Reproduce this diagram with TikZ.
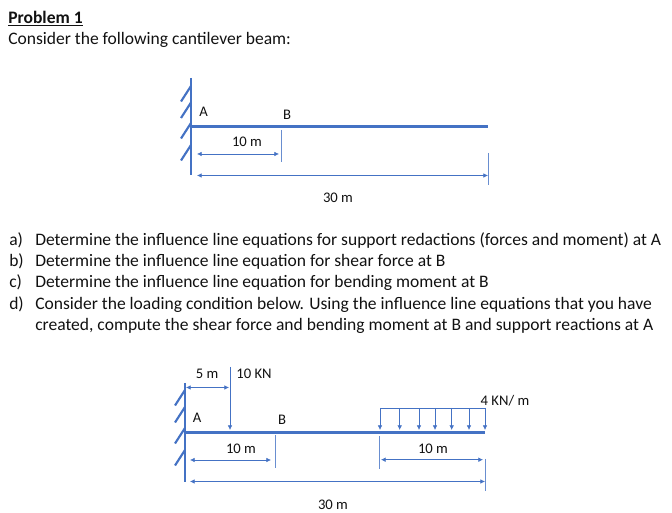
\documentclass[tikz,border=0pt]{standalone}
\usepackage{fontspec}
\setmainfont{Carlito}
\usetikzlibrary{arrows.meta}
\definecolor{beamblue}{HTML}{4472C4}
\definecolor{inktext}{HTML}{111111}
\tikzset{
  beamLine/.style={draw=beamblue, line width=1.8pt},
  hatchLine/.style={draw=beamblue, line width=1.6pt},
  dimLine/.style={draw=beamblue, line width=0.55pt, {Latex[length=3.5pt,width=3.5pt]}-{Latex[length=3.5pt,width=3.5pt]}},
  loadLine/.style={draw=beamblue, line width=0.55pt, -{Latex[length=3.5pt,width=3.5pt]}},
  tickLine/.style={draw=beamblue!80, line width=0.6pt},
  bodyTxt/.style={text=inktext, font=\fontsize{13.15}{15}\selectfont, anchor=base west, inner sep=0pt},
  figTxt/.style={text=inktext, font=\fontsize{11}{13}\selectfont, inner sep=0pt},
}
% wall hatches, given the wall x and the four y values at the wall
\newcommand{\WallHatch}[5]{%
  \foreach \yy in {#2,#3,#4,#5}
    \draw[hatchLine] (#1,\yy) -- ++(-10,15.5);
}
\begin{document}
\begin{tikzpicture}[x=0.75pt, y=-0.75pt]
  \useasboundingbox (0,0) rectangle (672,513);

  % text
  \node[bodyTxt] (title) at (8,23.7) {\underline{\textbf{Problem 1}}};
  \node[bodyTxt] (intro) at (8,44.5) {Consider the following cantilever beam:};
  \node[bodyTxt] (qa) at (9,245.8) {a)};
  \node[bodyTxt] (qb) at (9,266.3) {b)};
  \node[bodyTxt] (qc) at (9,288) {c)};
  \node[bodyTxt] (qd) at (9,309.3) {d)};
  \node[bodyTxt] (qatxt) at (35,245.8) {Determine the influence line equations for support redactions (forces and moment) at A};
  \node[bodyTxt] (qbtxt) at (35,266.3) {Determine the influence line equation for shear force at B};
  \node[bodyTxt] (qctxt) at (35,288) {Determine the influence line equation for bending moment at B};
  \node[bodyTxt] (qdtxt) at (35,309.3) {Consider the loading condition below. Using the influence line equations that you have};
  \node[bodyTxt] (qdtxtb) at (35,331) {created, compute the shear force and bending moment at B and support reactions at A};

  % top beam
  \coordinate (wallT) at (191,78);
  \coordinate (wallB) at (191,175);
  \coordinate (beamL) at (191,126.7);
  \coordinate (beamR) at (488,126.7);
  \draw[beamLine] (wallT) -- (wallB);
  \draw[beamLine] (beamL) -- (beamR);
  \WallHatch{191}{86}{102.5}{123}{145}

  \draw[tickLine] (281,130) -- (281,162);
  \draw[tickLine] (488,153) -- (488,185);
  \draw[dimLine] (197,154) -- (279,154);
  \draw[dimLine] (197,175.5) -- (488,175.5);

  \node[figTxt] (lblA) at (203.5,112) {A};
  \node[figTxt] (lblB) at (287,115) {B};
  \node[figTxt] (dimten) at (247,142) {10 m};
  \node[figTxt] (dimthirty) at (338,197.5) {30 m};

  % loaded beam
  \coordinate (wall2T) at (185,383);
  \coordinate (wall2B) at (185,482);
  \coordinate (beam2L) at (185,432.5);
  \coordinate (beam2R) at (485,432.5);
  \draw[beamLine] (wall2T) -- (wall2B);
  \draw[beamLine] (beam2L) -- (beam2R);
  \WallHatch{185}{390}{407}{428}{450}

  \draw[dimLine] (186,387.5) -- (229,387.5);
  \draw[loadLine] (230,367) -- (230,430);
  \draw[tickLine] (275,435) -- (275,468);
  \draw[tickLine] (379.5,436) -- (379.5,469);
  \draw[tickLine] (485,459) -- (485,491);
  \draw[dimLine] (190,460) -- (271,460);
  \draw[dimLine] (381,459.7) -- (483,459.7);
  \draw[dimLine] (190,481.5) -- (485,481.5);

  % distributed load
  \draw[draw=beamblue, line width=0.55pt] (380,408) -- (485,408);
  \foreach \xx in {380,399.7,419,435,451.7,469,485}
    \draw[loadLine] (\xx,408) -- (\xx,430);

  \node[figTxt] (lblfive) at (207,373.5) {5 m};
  \node[figTxt] (lblten) at (254,373.5) {10 KN};
  \node[figTxt] (lblA2) at (197,418) {A};
  \node[figTxt] (lblB2) at (282,420) {B};
  \node[figTxt] (dimten2) at (241,449) {10 m};
  \node[figTxt] (dimten3) at (433,449) {10 m};
  \node[figTxt] (dimthirty2) at (333,504.5) {30 m};
  \node[figTxt] (lblq) at (505,401) {4 KN/ m};
\end{tikzpicture}
\end{document}
